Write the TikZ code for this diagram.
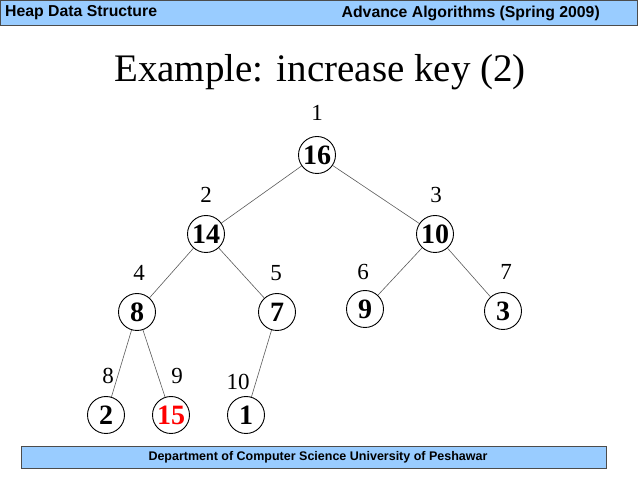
\documentclass[tikz,border=0pt]{standalone}
\usepackage{fontspec}
\setmainfont{Liberation Serif}
\newfontfamily\barfont{Liberation Sans}
\usetikzlibrary{positioning}
\definecolor{barblue}{RGB}{153,204,255}
\definecolor{edgegray}{RGB}{90,90,90}
\tikzstyle{bar} = [draw=black!70,fill=barblue,line width=0.8pt]
\tikzstyle{bartext} = [font=\barfont\bfseries,inner sep=0pt]
\tikzstyle{key} = [circle,draw,line width=0.9pt,minimum size=37pt,inner sep=0pt,font=\fontsize{28}{28}\selectfont\bfseries]
\tikzstyle{idx} = [inner sep=0pt,font=\fontsize{23}{23}\selectfont,node distance=12pt]

\begin{document}
\begin{tikzpicture}
	[x=1pt,y=-1pt]
	\tikzstyle{link}=[edgegray,line width=0.6pt];
	\useasboundingbox (0,0) rectangle (638,478);
	
	% header and footer
	\draw[bar] (0.5,0.5) rectangle (637,25);
	\node (head1) [bartext,font=\fontsize{15.8}{16}\selectfont\barfont\bfseries,anchor=west] at (5,13) {Heap Data Structure};
	\node (head2) [bartext,font=\fontsize{15.8}{16}\selectfont\barfont\bfseries,anchor=east] at (600,13) {Advance Algorithms (Spring 2009)};
	\draw[bar] (21,446) rectangle (606,468);
	\node (foot) [bartext,font=\fontsize{12.5}{13}\selectfont\barfont\bfseries] at (318,457) {Department of Computer Science University of Peshawar};
	
	\node (title) [font=\fontsize{39}{39}\selectfont] at (320,72) {Example: increase key (2)};
	
	% heap
	\node (1) [key] at (317,155) {16};
	\node (2) [key] at (206,234) {14};
	\node (3) [key] at (435,234) {10};
	\node (4) [key] at (137,312) {8};
	\node (5) [key] at (277,312) {7};
	\node (6) [key] at (365,309) {9};
	\node (7) [key] at (503,311) {3};
	\node (8) [key] at (106,415) {2};
	\node (9) [key,text=red] at (171,415) {15};
	\node (10) [key] at (246,415) {1};
	
	\node (i1) [idx,above=of 1,yshift=3pt] {1};
	\node (i2) [idx,above=of 2] {2};
	\node (i3) [idx,above=of 3,xshift=1pt] {3};
	\node (i4) [idx,above=of 4,xshift=2pt] {4};
	\node (i5) [idx,above=of 5,xshift=-1pt] {5};
	\node (i6) [idx,above=of 6,xshift=-2pt,yshift=-2pt] {6};
	\node (i7) [idx,above=of 7,xshift=3pt] {7};
	\node (i8) [idx,above=of 8,xshift=2pt] {8};
	\node (i9) [idx,above=of 9,xshift=6pt] {9};
	\node (i10) [idx,above=of 10,xshift=-8pt,yshift=-6pt] {10};
	
	\draw[link] (1) -- (2);
	\draw[link] (1) -- (3);
	\draw[link] (2) -- (4);
	\draw[link] (2) -- (5);
	\draw[link] (3) -- (6);
	\draw[link] (3) -- (7);
	\draw[link] (4) -- (8);
	\draw[link] (4) -- (9);
	\draw[link] (5) -- (10);
\end{tikzpicture}
\end{document}
